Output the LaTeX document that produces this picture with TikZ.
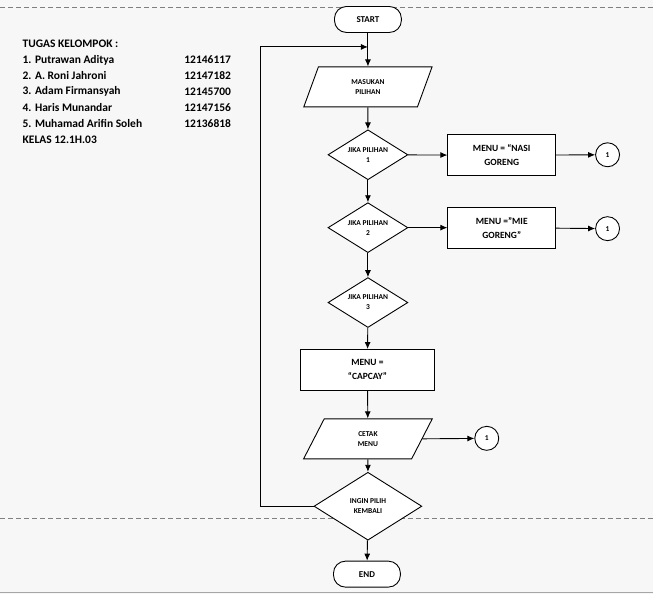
\documentclass[tikz,border=0pt]{standalone}
\usepackage{fontspec}
\setmainfont{Carlito}
\usetikzlibrary{shapes.geometric,arrows.meta}
\begin{document}
\begin{tikzpicture}[x=1pt,y=-1pt,
  base/.style={draw=black,line width=0.9pt,fill=white,align=center,font=\bfseries\fontsize{7.5}{10}\selectfont,inner sep=1pt},
  term/.style={base,rectangle,rounded corners=12pt,minimum width=67pt,minimum height=26pt,font=\bfseries\fontsize{9}{10}\selectfont},
  io/.style={base,trapezium,trapezium left angle=73,trapezium right angle=107,trapezium stretches=true,minimum width=129pt,minimum height=40pt},
  dec/.style={base,diamond,aspect=1.6,minimum width=80pt,minimum height=50pt},
  proc/.style={base,rectangle,minimum width=108pt,minimum height=41pt,font=\bfseries\fontsize{9.5}{14}\selectfont},
  conn/.style={base,circle,minimum size=24pt,font=\bfseries\fontsize{7.5}{9}\selectfont},
  arr/.style={-{Latex[length=7pt,width=6pt]},line width=0.9pt},
  lst/.style={anchor=west,font=\bfseries\fontsize{11.5}{12}\selectfont,inner sep=0pt}]
\fill[black!3] (0,0) rectangle (653,595);
\draw[gray,dash pattern=on 5pt off 3pt,line width=0.6pt] (0,7) -- (653,7);
\draw[gray,dash pattern=on 5pt off 3pt,line width=0.6pt] (0,519) -- (653,519);
\draw[gray!70,line width=1pt] (0,593.5) -- (653,593.5);
\useasboundingbox (0,0) rectangle (653,595);
% list
\node[lst] (t0) at (22,44) {TUGAS KELOMPOK :};
\node[lst] (t1) at (22,60) {1. Putrawan Aditya};
\node[lst] (t2) at (22,76) {2. A. Roni Jahroni};
\node[lst] (t3) at (22,92) {3. Adam Firmansyah};
\node[lst] (t4) at (22,108) {4. Haris Munandar};
\node[lst] (t5) at (22,124) {5. Muhamad Arifin Soleh};
\node[lst] (t6) at (22,140) {KELAS 12.1H.03};
\node[lst] (n1) at (184,60) {12146117};
\node[lst] (n2) at (184,76) {12147182};
\node[lst] (n3) at (184,92) {12145700};
\node[lst] (n4) at (184,108) {12147156};
\node[lst] (n5) at (184,124) {12136818};
% flow
\node[term] (start) at (368,19.5) {START};
\node[io] (in) at (368,87) {MASUKAN\\PILIHAN};
\node[dec] (d1) at (368,155) {JIKA PILIHAN\\1};
\node[proc] (p1) at (502,155.5) {MENU = ``NASI\\GORENG};
\node[conn] (c1) at (608,155) {1};
\node[dec] (d2) at (368,228) {JIKA PILIHAN\\2};
\node[proc] (p2) at (502,228) {MENU =''MIE\\GORENG''};
\node[conn] (c2) at (608,229) {1};
\node[dec] (d3) at (368,303) {JIKA PILIHAN\\3};
\node[proc,minimum width=135pt] (p3) at (367.5,370.5) {MENU =\\``CAPCAY''};
\node[io] (out) at (368,439.5) {CETAK\\MENU};
\node[conn] (c3) at (487,439) {1};
\node[dec,minimum width=108pt,minimum height=68pt,aspect=1.6] (d4) at (368,507) {INGIN PILIH\\KEMBALI};
\node[term] (end) at (367,575) {END};
\coordinate (j) at (368,47);
\coordinate (lb) at (260,507);
\coordinate (lt) at (260,47);
\draw[line width=0.9pt] (start) -- (j);
\draw[arr] (j) -- (in);
\draw[arr] (in) -- (d1);
\draw[arr] (d1) -- (d2);
\draw[arr] (d2) -- (d3);
\draw[arr] (d3) -- (p3);
\draw[arr] (p3) -- (out);
\draw[arr] (out) -- (d4);
\draw[arr] (d4) -- (end);
\draw[arr] (d1) -- (p1);
\draw[arr] (p1) -- (c1);
\draw[arr] (d2) -- (p2);
\draw[arr] (p2) -- (c2);
\draw[arr] (out.east) -- (c3);
\draw[arr] (d4.west) -- (lb) -- (lt) -- (j);
\end{tikzpicture}
\end{document}
